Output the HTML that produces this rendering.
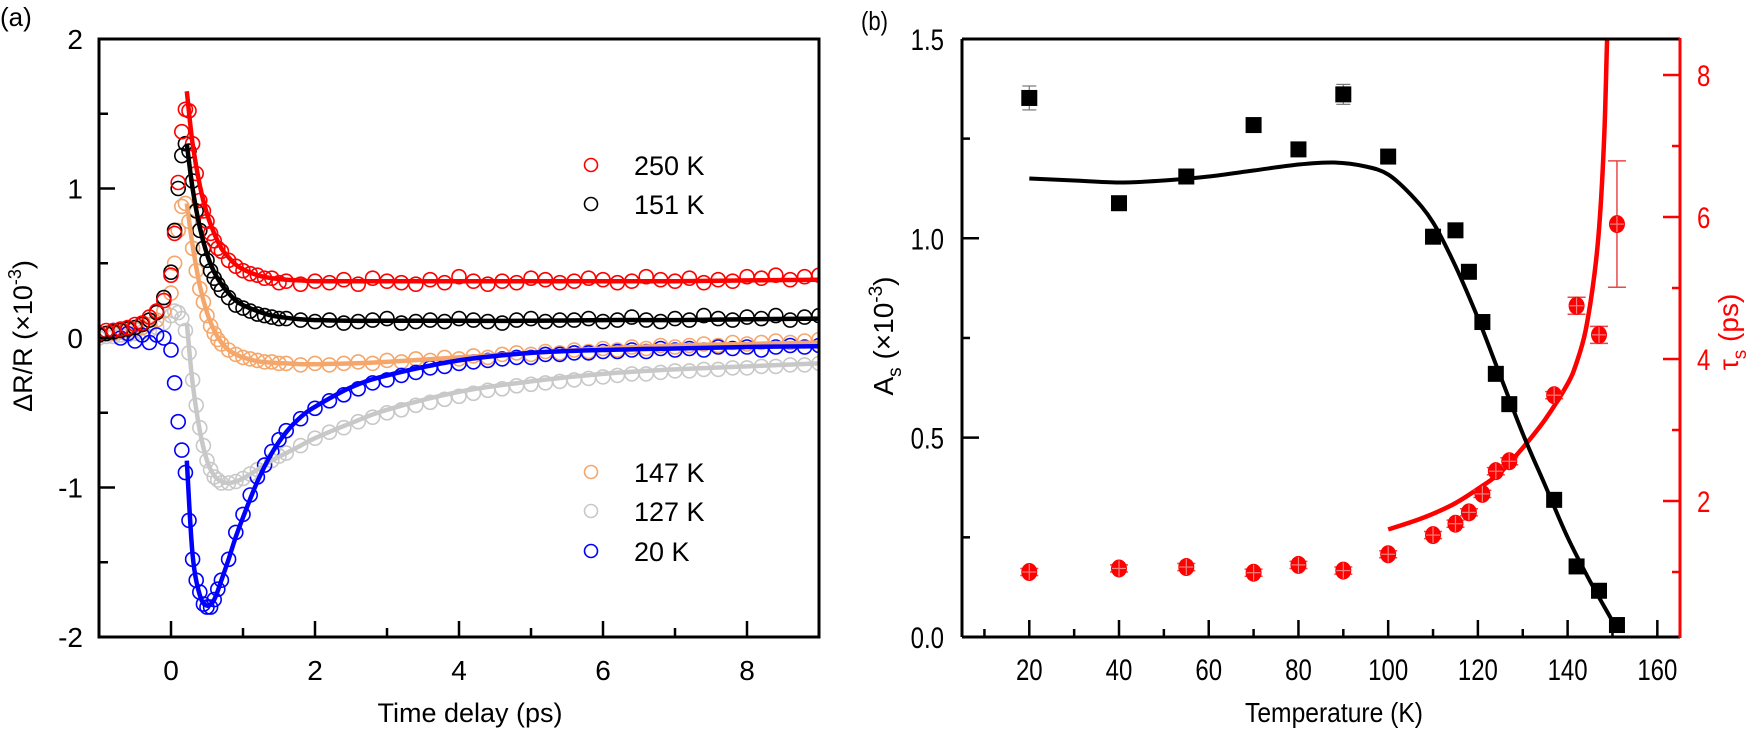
<!DOCTYPE html>
<html><head><meta charset="utf-8"><style>
html,body{margin:0;padding:0;background:#fff}
svg{display:block}
text{font-family:"Liberation Sans",sans-serif}
</style></head><body>
<svg id="fig" width="1750" height="732" viewBox="0 0 1750 732" xmlns="http://www.w3.org/2000/svg">
<defs>
<clipPath id="clipA"><rect x="99" y="39" width="720" height="598"/></clipPath>
<clipPath id="clipB"><rect x="962" y="39" width="718" height="598"/></clipPath>
</defs>
<text x="0" y="26" font-size="26">(a)</text>
<text x="861" y="30" font-size="26" transform="translate(861,0) scale(0.85,1) translate(-861,0)">(b)</text>
<g id="panelA"></g>
<g id="panelB"></g>
</svg>
<script>
// ---------- Panel (a) data ----------
const delays = [-1.0,-0.9,-0.8,-0.7,-0.6,-0.5,-0.4,-0.3,-0.2,-0.1,0,
0.05,0.1,0.15,0.2,0.25,0.3,0.35,0.4,0.45,0.5,0.55,0.6,0.65,0.7,0.8,0.9,1.0,1.1,1.2,1.3,1.4,1.5,1.6,1.8,2.0,
2.2,2.4,2.6,2.8,3.0,3.2,3.4,3.6,3.8,4.0,4.2,4.4,4.6,4.8,5.0,5.2,5.4,5.6,5.8,6.0,6.2,6.4,6.6,6.8,7.0,7.2,7.4,7.6,7.8,8.0,8.2,8.4,8.6,8.8,9.0];
const data250K = [0.03,0.05,0.05,0.06,0.07,0.09,0.1,0.14,0.18,0.25,0.42,
0.7,1.04,1.38,1.53,1.52,1.3,1.1,0.92,0.85,0.78,0.7,0.65,0.6,0.58,0.52,0.48,0.45,0.43,0.42,0.40,0.4,0.37,0.38,0.36,0.38,
0.37,0.39,0.36,0.4,0.38,0.37,0.36,0.39,0.37,0.41,0.38,0.36,0.38,0.37,0.4,0.39,0.37,0.38,0.4,0.39,0.37,0.38,0.41,0.39,0.38,0.4,0.37,0.39,0.38,0.41,0.4,0.42,0.39,0.41,0.42];
const data151K = [0.02,0.03,0.04,0.05,0.06,0.07,0.09,0.12,0.17,0.27,0.44,
0.72,1.0,1.22,1.3,1.25,1.05,0.85,0.72,0.6,0.52,0.45,0.4,0.36,0.32,0.27,0.22,0.2,0.18,0.16,0.15,0.14,0.13,0.13,0.12,0.11,
0.12,0.1,0.11,0.12,0.13,0.1,0.11,0.12,0.11,0.13,0.12,0.11,0.1,0.12,0.13,0.11,0.12,0.12,0.13,0.11,0.12,0.14,0.12,0.11,0.13,0.12,0.15,0.13,0.12,0.14,0.13,0.15,0.12,0.14,0.15];
const data147K = [0.02,0.03,0.03,0.04,0.05,0.06,0.07,0.09,0.12,0.18,0.3,
0.5,0.72,0.88,0.9,0.78,0.6,0.45,0.33,0.24,0.15,0.08,0.03,-0.01,-0.04,-0.08,-0.11,-0.13,-0.14,-0.15,-0.16,-0.16,-0.17,-0.17,-0.18,-0.17,
-0.18,-0.17,-0.16,-0.17,-0.15,-0.16,-0.14,-0.15,-0.13,-0.14,-0.12,-0.13,-0.11,-0.1,-0.11,-0.09,-0.1,-0.08,-0.09,-0.07,-0.08,-0.06,-0.07,-0.05,-0.06,-0.05,-0.04,-0.05,-0.03,-0.04,-0.03,-0.02,-0.03,-0.02,-0.01];
const data127K = [0.0,0.01,0.01,0.02,0.02,0.03,0.04,0.05,0.07,0.1,0.15,
0.18,0.17,0.13,0.05,-0.1,-0.28,-0.45,-0.6,-0.72,-0.82,-0.88,-0.93,-0.95,-0.97,-0.97,-0.96,-0.94,-0.91,-0.88,-0.85,-0.82,-0.79,-0.77,-0.72,-0.67,
-0.63,-0.6,-0.56,-0.53,-0.5,-0.48,-0.45,-0.43,-0.41,-0.39,-0.37,-0.35,-0.34,-0.32,-0.31,-0.3,-0.29,-0.28,-0.27,-0.26,-0.25,-0.24,-0.24,-0.23,-0.22,-0.22,-0.21,-0.21,-0.2,-0.2,-0.19,-0.19,-0.18,-0.18,-0.17];
const data20K = [0.02,0.03,0.05,0.0,0.03,-0.02,0.02,-0.03,0.02,0.0,-0.08,
-0.3,-0.56,-0.75,-0.9,-1.22,-1.48,-1.62,-1.7,-1.78,-1.8,-1.8,-1.75,-1.68,-1.62,-1.48,-1.3,-1.18,-1.05,-0.93,-0.85,-0.76,-0.68,-0.62,-0.54,-0.47,
-0.42,-0.38,-0.34,-0.3,-0.28,-0.25,-0.23,-0.2,-0.19,-0.17,-0.16,-0.15,-0.14,-0.13,-0.13,-0.11,-0.11,-0.1,-0.1,-0.09,-0.09,-0.08,-0.09,-0.07,-0.08,-0.07,-0.08,-0.06,-0.07,-0.06,-0.08,-0.06,-0.05,-0.06,-0.05];
const fitDelays = [0.22,0.3,0.4,0.5,0.6,0.7,0.8,0.9,1.0,1.2,1.4,1.6,1.8,2,2.5,3,4,5,6,7,8,9];
const fit250K = [1.65,1.3,1.02,0.83,0.7,0.6,0.54,0.49,0.46,0.42,0.4,0.39,0.385,0.38,0.38,0.38,0.38,0.38,0.38,0.38,0.385,0.39];
const fit151K = [1.3,1.0,0.74,0.56,0.44,0.36,0.3,0.25,0.22,0.18,0.15,0.135,0.125,0.12,0.115,0.115,0.115,0.115,0.12,0.12,0.125,0.13];
const fit147K = [0.9,0.62,0.35,0.17,0.05,-0.03,-0.08,-0.11,-0.13,-0.155,-0.165,-0.17,-0.175,-0.175,-0.17,-0.16,-0.13,-0.1,-0.07,-0.05,-0.04,-0.03];
const fit127K = [0.1,-0.3,-0.62,-0.82,-0.92,-0.96,-0.97,-0.96,-0.94,-0.88,-0.82,-0.77,-0.72,-0.67,-0.57,-0.48,-0.36,-0.29,-0.24,-0.21,-0.19,-0.17];
const fit20K = [-0.82,-1.45,-1.72,-1.79,-1.75,-1.62,-1.48,-1.33,-1.2,-0.96,-0.77,-0.63,-0.53,-0.46,-0.33,-0.25,-0.15,-0.1,-0.08,-0.07,-0.06,-0.055];
const seriesNamesA = ['127K','147K','20K','151K','250K'];
const legendLabelsA = ['250 K','151 K','147 K','127 K','20 K'];
const xTicksA = [0,2,4,6,8];
const yTicksA = [-2,-1,0,1,2];

// ---------- Panel (b) data ----------
const tempsA = [20,40,55,70,80,90,100,110,115,118,121,124,127,137,142,147,151];
const ampA = [1.352,1.088,1.155,1.284,1.223,1.361,1.205,1.004,1.02,0.916,0.79,0.66,0.584,0.344,0.177,0.116,0.03];
const ampErr = [0.03,0,0,0.015,0,0.025,0,0,0,0,0,0,0,0,0,0,0];
const tempsTau = [20,40,55,70,80,90,100,110,115,118,121,124,127,137,142,147,151];
const tau = [1.0,1.05,1.07,0.99,1.1,1.02,1.25,1.52,1.68,1.84,2.1,2.42,2.56,3.49,4.75,4.34,5.9];
const tauErr = [0.05,0.05,0.05,0.05,0.05,0.05,0.05,0.05,0.05,0.05,0.05,0.05,0.05,0.05,0.12,0.12,0.89];
const fitTempsA = [20,30,40,50,60,70,80,88,95,100,105,110,115,120,125,130,135,140,145,150,151];
const fitAmp = [1.15,1.145,1.14,1.145,1.155,1.17,1.185,1.19,1.18,1.16,1.11,1.04,0.93,0.8,0.655,0.51,0.38,0.25,0.14,0.04,0.02];
const fitTempsTau = [100,105,110,115,120,125,130,135,140,142,144,146,147.2,148.2,148.8,149.2];
const fitTau = [1.6,1.7,1.82,1.97,2.17,2.4,2.75,3.15,3.65,3.95,4.4,5.2,6.0,7.2,8.5,9.2];
const xTicksB = [20,40,60,80,100,120,140,160];
const yTicksB = [0.0,0.5,1.0,1.5];
const yTicksTau = [2,4,6,8];

const NS='http://www.w3.org/2000/svg';
function mk(tag, attrs, parent){const e=document.createElementNS(NS,tag);for(const k in attrs)e.setAttribute(k,attrs[k]);parent.appendChild(e);return e;}
function smoothPath(pts){
  let d='M'+pts[0][0].toFixed(1)+','+pts[0][1].toFixed(1);
  for(let i=0;i<pts.length-1;i++){
    const p0=pts[Math.max(0,i-1)],p1=pts[i],p2=pts[i+1],p3=pts[Math.min(pts.length-1,i+2)];
    const c1x=p1[0]+(p2[0]-p0[0])/6,c1y=p1[1]+(p2[1]-p0[1])/6;
    const c2x=p2[0]-(p3[0]-p1[0])/6,c2y=p2[1]-(p3[1]-p1[1])/6;
    d+=' C'+c1x.toFixed(1)+','+c1y.toFixed(1)+' '+c2x.toFixed(1)+','+c2y.toFixed(1)+' '+p2[0].toFixed(1)+','+p2[1].toFixed(1);
  }
  return d;
}

// ===== Panel A =====
const A=document.getElementById('panelA');
const xA=t=>171+72*t;
const yA=v=>338-149.5*v;
const colors={'250K':'#ff0000','151K':'#000000','147K':'#f5a66a','127K':'#c8c8c8','20K':'#0000ff'};
const dataMap={'250K':data250K,'151K':data151K,'147K':data147K,'127K':data127K,'20K':data20K};
const fitMap={'250K':fit250K,'151K':fit151K,'147K':fit147K,'127K':fit127K,'20K':fit20K};
const gA=mk('g',{'clip-path':'url(#clipA)'},A);
seriesNamesA.forEach(s=>{
  const g=mk('g',{},gA);
  
  
  delays.forEach((t,i)=>{
    const c=mk('circle',{cx:xA(t).toFixed(1),cy:yA(dataMap[s][i]).toFixed(1),r:7,fill:'none',stroke:colors[s],'stroke-width':1.6},g);
    
    
  });
});
seriesNamesA.forEach(s=>{
  const pts=fitDelays.map((t,i)=>[xA(t),yA(fitMap[s][i])]);
  const p=mk('path',{d:smoothPath(pts),fill:'none',stroke:colors[s],'stroke-width':4.5,'stroke-linejoin':'round'},gA);
  
  
});
const frA=mk('rect',{x:99,y:39,width:720,height:598,fill:'none',stroke:'#000','stroke-width':3},A);


for(let t=-1;t<=9;t++){
  const major=(t%2===0);
  mk('line',{x1:xA(t),x2:xA(t),y1:637,y2:637-(major?16:9),stroke:'#000','stroke-width':2.5},A);
}
xTicksA.forEach(t=>{
  const tx=mk('text',{x:xA(t),y:680,'font-size':28,'text-anchor':'middle'},A);
  tx.textContent=t;
  
  
});
for(let v=-2;v<=2;v+=0.5){
  const major=Number.isInteger(v);
  mk('line',{x1:99,x2:99+(major?16:9),y1:yA(v),y2:yA(v),stroke:'#000','stroke-width':2.5},A);
}
yTicksA.forEach(v=>{
  const tx=mk('text',{x:83,y:yA(v)+10,'font-size':28,'text-anchor':'end'},A);
  tx.textContent=v;
  
  
});
{
  const t=mk('text',{x:470,y:722,'font-size':27,'text-anchor':'middle'},A);
  t.textContent='Time delay (ps)';
  
  
  const y=mk('text',{x:0,y:0,'font-size':27,'text-anchor':'middle',transform:'translate(32,336) rotate(-90)'},A);
  y.innerHTML='ΔR/R (×10<tspan dy="-11" font-size="18">-3</tspan><tspan dy="11">)</tspan>';
  
  
}
const legOrder=['250K','151K','147K','127K','20K'];
const legY=[165,204,472,511,551];
legOrder.forEach((s,i)=>{
  const g=mk('g',{},A);
  
  
  mk('circle',{cx:591,cy:legY[i],r:6.5,fill:'none',stroke:colors[s],'stroke-width':1.6},g);
  const t=mk('text',{x:634,y:legY[i]+10,'font-size':27},g);
  t.textContent=legendLabelsA[i];
});

// ===== Panel B =====
const B=document.getElementById('panelB');
const xB=T=>962+(T-5)*4.486;
const yB=v=>637-398.7*v;
const yT=v=>643-71*v;
const gB=mk('g',{'clip-path':'url(#clipB)'},B);
{
  const pts=fitTempsTau.map((T,i)=>[xB(T),yT(fitTau[i])]);
  const p=mk('path',{d:smoothPath(pts),fill:'none',stroke:'#ff0000','stroke-width':4.5},gB);
  
  
}
{
  const pts=fitTempsA.map((T,i)=>[xB(T),yB(fitAmp[i])]);
  const p=mk('path',{d:smoothPath(pts),fill:'none',stroke:'#000','stroke-width':4},gB);
  
  
}
tempsTau.forEach((T,i)=>{
  const g=mk('g',{},gB);
  
  
  const cx=xB(T),cy=yT(tau[i]);
  const e=tauErr[i]*71;
  mk('line',{x1:cx,x2:cx,y1:cy-e,y2:cy+e,stroke:'#e84848','stroke-width':1.5},g);
  mk('line',{x1:cx-9,x2:cx+9,y1:cy-e,y2:cy-e,stroke:'#e84848','stroke-width':1.5},g);
  mk('line',{x1:cx-9,x2:cx+9,y1:cy+e,y2:cy+e,stroke:'#e84848','stroke-width':1.5},g);
  mk('ellipse',{cx:cx,cy:cy,rx:8,ry:9,fill:'#ff0000'},g);
  mk('line',{x1:cx-7,x2:cx+7,y1:cy,y2:cy,stroke:'#f08080','stroke-width':1.2},g);
  mk('line',{x1:cx,x2:cx,y1:cy-8,y2:cy+8,stroke:'#f08080','stroke-width':1.2},g);
});
tempsA.forEach((T,i)=>{
  const g=mk('g',{},gB);
  
  
  const cx=xB(T),cy=yB(ampA[i]);
  if(ampErr[i]>0){
    const e=ampErr[i]*398.7;
    mk('line',{x1:cx,x2:cx,y1:cy-e,y2:cy+e,stroke:'#777','stroke-width':1.2},g);
    mk('line',{x1:cx-7,x2:cx+7,y1:cy-e,y2:cy-e,stroke:'#777','stroke-width':1.2},g);
    mk('line',{x1:cx-7,x2:cx+7,y1:cy+e,y2:cy+e,stroke:'#777','stroke-width':1.2},g);
  }
  mk('rect',{x:cx-8,y:cy-8,width:16,height:16,fill:'#000'},g);
});
mk('line',{x1:962,x2:1680,y1:39,y2:39,stroke:'#000','stroke-width':3},B);
mk('line',{x1:962,x2:1680,y1:637,y2:637,stroke:'#000','stroke-width':3},B);
mk('line',{x1:962,x2:962,y1:39,y2:637,stroke:'#000','stroke-width':3},B);
const ra=mk('line',{x1:1680,x2:1680,y1:38,y2:638,stroke:'#ff0000','stroke-width':3},B);


for(let T=10;T<=160;T+=10){
  const major=(T%20===0);
  mk('line',{x1:xB(T),x2:xB(T),y1:637,y2:637-(major?17:8),stroke:'#000','stroke-width':2.5},B);
}
function condensed(x,y,str,anchor,fill,name){
  const t=mk('text',{x:0,y:0,'font-size':30,'text-anchor':anchor,fill:fill,transform:'translate('+x+','+y+') scale(0.8,1)'},B);
  t.textContent=str;
  
  
  return t;
}
xTicksB.forEach(T=>condensed(xB(T),680,String(T),'middle','#000','x-tick-label-b'));
for(let v=0;v<=1.5001;v+=0.25){
  const major=Math.abs(v*2-Math.round(v*2))<1e-6;
  mk('line',{x1:962,x2:962+(major?17:8),y1:yB(v),y2:yB(v),stroke:'#000','stroke-width':2.5},B);
}
yTicksB.forEach(v=>condensed(944,yB(v)+11,v.toFixed(1),'end','#000','y-tick-label-b'));
for(let v=1;v<=8;v++){
  const major=(v%2===0);
  mk('line',{x1:1680,x2:1680-(major?17:8),y1:yT(v),y2:yT(v),stroke:'#ff0000','stroke-width':2.5},B);
}
yTicksTau.forEach(v=>condensed(1697,yT(v)+11,String(v),'start','#ff0000','tau-tick-label'));
{
  const t=mk('text',{x:0,y:0,'font-size':28,'text-anchor':'middle',transform:'translate(1334,722) scale(0.88,1)'},B);
  t.textContent='Temperature  (K)';
  
  
  const y=mk('text',{x:0,y:0,'font-size':28,'text-anchor':'middle',transform:'translate(893,336) rotate(-90)'},B);
  y.innerHTML='A<tspan dy="8" font-size="19">s</tspan><tspan dy="-8"> (×10</tspan><tspan dy="-11" font-size="19">-3</tspan><tspan dy="11">)</tspan>';
  
  
  const r=mk('text',{x:0,y:0,'font-size':28,'text-anchor':'middle',fill:'#ff0000',transform:'translate(1738,332) rotate(-90)'},B);
  r.innerHTML='τ<tspan dy="8" font-size="19">s</tspan><tspan dy="-8"> (ps)</tspan>';
  
  
}
</script>
</body></html>
